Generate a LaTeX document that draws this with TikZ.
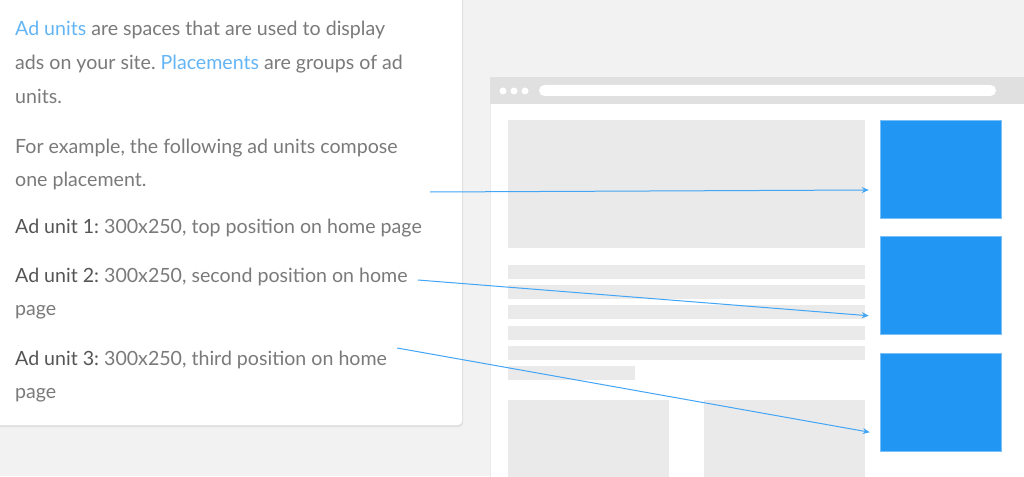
\documentclass[tikz,border=0pt]{standalone}
\usepackage{fontspec}
\setmainfont{Lato}
\usetikzlibrary{arrows.meta, positioning, calc}
\definecolor{pagebg}{HTML}{F2F2F2}
\definecolor{barbg}{HTML}{E0E0E0}
\definecolor{fillgray}{HTML}{EAEAEA}
\definecolor{adblue}{HTML}{2196F3}
\definecolor{linkblue}{HTML}{42A5F5}
\definecolor{wordblue}{HTML}{64B5F6}
\definecolor{txtgray}{HTML}{7A7A7A}
\definecolor{labgray}{HTML}{555555}
\frenchspacing

\begin{document}
\begin{tikzpicture}[
    x=1pt, y=-1pt, node distance=18pt,
    >={Stealth[length=7pt,width=6pt]},
    line/.style={anchor=base west, inner sep=0pt, text=txtgray,
      font=\fontsize{19.6}{24}\selectfont},
    adbox/.style={fill=adblue, draw=adblue!60!white, line width=.5pt,
      minimum width=121pt, minimum height=98pt, inner sep=0pt},
    filler/.style={fill=fillgray},
    link/.style={->, draw=linkblue, line width=1pt},
  ]
  \useasboundingbox[fill=pagebg] (0,0) rectangle (1024,476);

  % text panel
  \fill[black!12, rounded corners=4pt] (-10,-10) rectangle (463,427);
  \fill[white, rounded corners=4pt] (-10,-10) rectangle (462,425);

  \node[line] (l1) at (15,36)  {\textcolor{wordblue}{Ad units} are spaces that are used to display};
  \node[line] (l2) at (15,70)  {ads on your site. \textcolor{wordblue}{Placements} are groups of ad};
  \node[line] (l3) at (15,103) {units.};
  \node[line] (l4) at (15,153) {For example, the following ad units compose};
  \node[line] (l5) at (15,186) {one placement.};
  \node[line] (l6) at (15,233) {\textcolor{labgray}{Ad unit 1:} 300x250, top position on home page};
  \node[line] (l7) at (15,282) {\textcolor{labgray}{Ad unit 2:} 300x250, second position on home};
  \node[line] (l8) at (15,315) {page};
  \node[line] (l9) at (15,365) {\textcolor{labgray}{Ad unit 3:} 300x250, third position on home};
  \node[line] (l10) at (15,398) {page};

  % browser window
  \fill[white] (490,77) rectangle (1030,480);
  \draw[black!8] (490.5,104) -- (490.5,480);
  \fill[barbg] (490,77) rectangle (1030,104);
  \foreach \x in {503,514,525}
    \fill[white] (\x,91) circle (3.5pt);
  \fill[white, rounded corners=5.5pt] (539,85) rectangle (996,96);

  % page content
  \fill[filler] (508,120) rectangle (865,248);
  \foreach \y in {265,285,305,326,346}
    \fill[filler] (508,\y) rectangle (865,\y+14);
  \fill[filler] (508,366) rectangle (635,380);
  \fill[filler] (508,400) rectangle (669,480);
  \fill[filler] (704,400) rectangle (865,480);

  % ad units
  \node[adbox] (ad1) at (940.5,169) {};
  \node[adbox, below=of ad1] (ad2) {};
  \node[adbox, below=of ad2] (ad3) {};

  \coordinate (s1) at (430,192);
  \coordinate (s2) at ($(l7.base east)+(10,-2)$);
  \coordinate (s3) at ($(l9.base east)+(10,-17)$);
  \coordinate (e1) at ($(ad1.west)+(-11,21)$);
  \coordinate (e2) at ($(ad2.south west)+(-11,-19)$);
  \coordinate (e3) at ($(ad3.south west)+(-10,-19)$);

  \draw[link] (s1) -- (e1);
  \draw[link] (s2) -- (e2);
  \draw[link] (s3) -- (e3);
\end{tikzpicture}
\end{document}
